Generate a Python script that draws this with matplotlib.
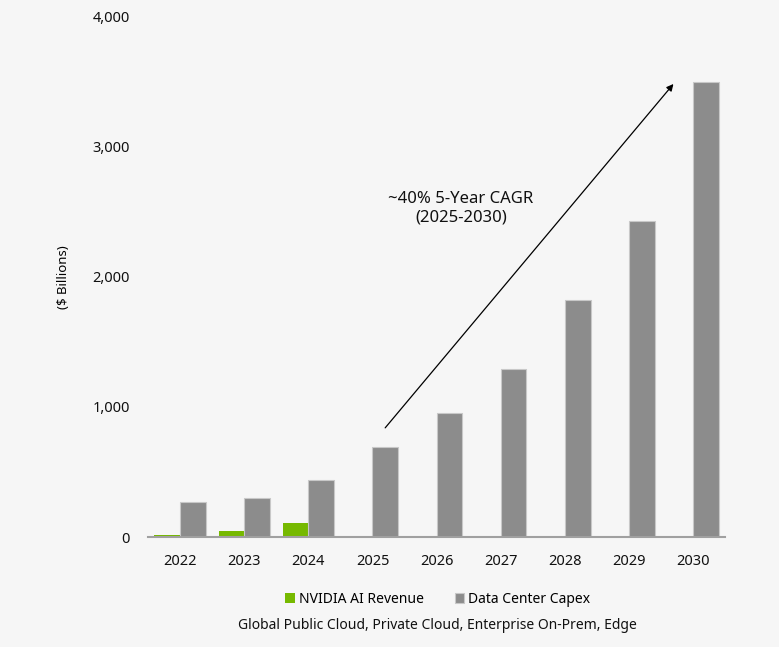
import matplotlib.pyplot as plt
import numpy as np

plt.rcParams['font.family'] = ['Noto Sans', 'DejaVu Sans']

years = ['2022', '2023', '2024', '2025', '2026', '2027', '2028', '2029', '2030']
nvidia_ai_revenue = [12, 44, 110, 0, 0, 0, 0, 0, 0]
data_center_capex = [272, 302, 435, 690, 955, 1290, 1820, 2430, 3500]

bg = '#f6f6f6'
green = '#76b900'
gray = '#8c8c8c'

fig = plt.figure(figsize=(7.79, 6.47), dpi=100, facecolor=bg)
ax = fig.add_axes([0.190, 0.170, 0.741, 0.804])
ax.set_facecolor(bg)

x = np.arange(len(years))
w = 0.4
ax.bar(x - w / 2, nvidia_ai_revenue, w, color=green, label='NVIDIA AI Revenue', zorder=2)
ax.bar(x + w / 2, data_center_capex, w, color=gray, edgecolor='#c8c8c8', linewidth=0.8,
       label='Data Center Capex', zorder=2)

ax.set_xlim(-0.5, len(years) - 0.5)
ax.set_ylim(0, 4000)
ax.set_xticks(x)
ax.set_xticklabels(years, fontsize=10.5)
ax.set_yticks([0, 1000, 2000, 3000, 4000])
ax.set_yticklabels(['0', '1,000', '2,000', '3,000', '4,000'], fontsize=10.5)
ax.tick_params(length=0, pad=12, colors='#111111')
ax.tick_params(axis='y', pad=13)
for s in ['top', 'right', 'left']:
    ax.spines[s].set_visible(False)
ax.spines['bottom'].set_color('#a0a0a0')
ax.spines['bottom'].set_linewidth(1.5)

ax.set_ylabel('($ Billions)', fontsize=9.5, labelpad=16)

# CAGR arrow
ax.annotate('', xy=(7.72, 3500), xytext=(3.17, 823),
            arrowprops=dict(arrowstyle='-|>', color='black', lw=0.9, mutation_scale=10))
ax.text(4.38, 2525, '~40% 5-Year CAGR\n(2025-2030)', ha='center', va='center',
        fontsize=12, color='#111111', linespacing=1.2)

fig.legend(loc='center', bbox_to_anchor=(0.562, 0.074), ncol=2, frameon=False,
           fontsize=10, handlelength=0.7, handleheight=0.7, handletextpad=0.3,
           columnspacing=2.2)
fig.text(0.562, 0.034, 'Global Public Cloud, Private Cloud, Enterprise On-Prem, Edge',
         ha='center', va='center', fontsize=10, color='#111111')

fig.savefig('out.png', dpi=100, facecolor=bg)
